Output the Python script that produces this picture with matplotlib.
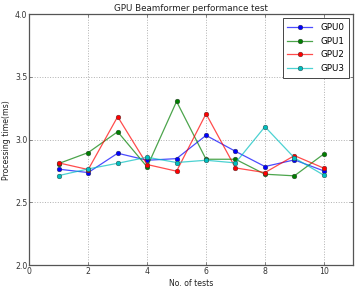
import matplotlib
matplotlib.use("Agg")
import matplotlib.pyplot as plt
from matplotlib.colors import to_rgba

# values
tests = [1, 2, 3, 4, 5, 6, 7, 8, 9, 10]
gpu0 = [2.765, 2.738, 2.892, 2.836, 2.849, 3.034, 2.907, 2.786, 2.839, 2.751]
gpu1 = [2.81, 2.897, 3.063, 2.783, 3.304, 2.844, 2.844, 2.725, 2.712, 2.886]
gpu2 = [2.815, 2.762, 3.183, 2.802, 2.749, 3.206, 2.775, 2.738, 2.873, 2.773]
gpu3 = [2.714, 2.767, 2.812, 2.86, 2.818, 2.836, 2.815, 3.103, 2.855, 2.717]
labels = ["GPU0", "GPU1", "GPU2", "GPU3"]
colors = ["#0000ff", "#007f00", "#ff0000", "#00bfbf"]

fig = plt.figure(figsize=(3.57, 2.88), dpi=100)
ax = fig.add_axes([29.3 / 357, 22.7 / 288, 324 / 357, 251.3 / 288])

for series, lab, col in zip([gpu0, gpu1, gpu2, gpu3], labels, colors):
    ax.plot(tests, series, "-o", color=to_rgba(col, 0.7), markerfacecolor=col,
            label=lab, lw=0.9, markersize=3.4,
            markeredgecolor="#333333", markeredgewidth=0.3)

ax.set_xlim(0, 11)
ax.set_ylim(2.0, 4.0)
ax.set_xticks([0, 2, 4, 6, 8, 10])
ax.set_yticks([2.0, 2.5, 3.0, 3.5, 4.0])
ax.grid(True, color="#b0b0b0", linestyle=":", linewidth=0.7)
ax.tick_params(direction="in", labelsize=5.6, length=2, width=0.5,
               top=True, right=True, pad=1.5, colors="#555555", labelcolor="#333333")
for sp in ax.spines.values():
    sp.set_color("#555555")
    sp.set_linewidth(0.9)

ax.set_title("GPU Beamformer performance test", fontsize=6.3, pad=2, color="#222222")
ax.set_xlabel("No. of tests", fontsize=5.6, labelpad=2, color="#222222")
ax.set_ylabel("Processing time(ms)", fontsize=5.6, labelpad=3, color="#222222")

leg = ax.legend(loc="upper right", fontsize=6.3, fancybox=False, framealpha=1,
                borderpad=0.5, labelspacing=0.55, handlelength=2.8, handletextpad=1.0,
                borderaxespad=0.5)
leg.get_frame().set_edgecolor("#444444")
leg.get_frame().set_linewidth(0.7)

fig.savefig("out.png", dpi=100)
